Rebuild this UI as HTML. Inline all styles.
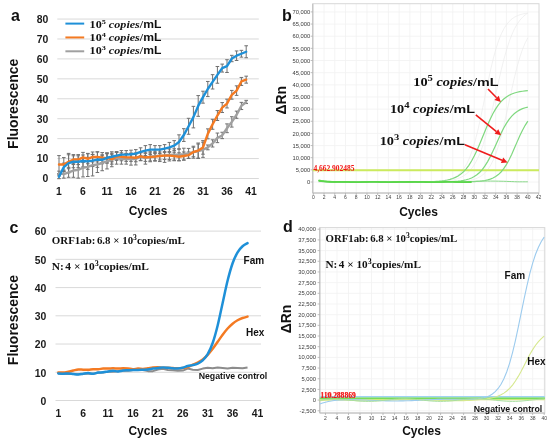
<!DOCTYPE html>
<html><head><meta charset="utf-8"><style>
html,body{margin:0;padding:0;background:#fff;width:550px;height:441px;overflow:hidden}
svg{display:block;will-change:transform}
text{font-family:"Liberation Sans", sans-serif;fill:#111}
.tk{font-size:10.4px;font-weight:bold;fill:#1a1a1a}
.ttl{font-size:14px;font-weight:bold}
.ttl2{font-size:12px;font-weight:bold}
.ttl3{font-size:14px;font-weight:bold}
.plbl{font-size:16px;font-weight:bold}
.leg{font-family:"Liberation Serif", serif;font-size:10px;font-weight:bold}
.leg2{font-family:"Liberation Serif", serif;font-size:11.5px;font-weight:bold}
.anno{font-family:"Liberation Serif", serif;font-size:11.4px;font-weight:bold}
.lbl10{font-size:10px;font-weight:bold}
.neg{font-size:8.75px;font-weight:bold}
.tks{font-size:5.8px;fill:#3a3a3a}
.tkx{font-size:5px;fill:#444}
.red{font-family:"Liberation Serif", serif;font-size:7.3px;font-weight:bold;fill:#f21414}
</style></head><body>
<svg width="550" height="441" viewBox="0 0 550 441">
<rect width="550" height="441" fill="#fff"/>
<line x1="57.3" y1="178.5" x2="258.8" y2="178.5" stroke="#d9d9d9" stroke-width="1"/>
<text x="48.4" y="182.4" class="tk" text-anchor="end">0</text>
<line x1="57.3" y1="158.57" x2="258.8" y2="158.57" stroke="#d9d9d9" stroke-width="1"/>
<text x="48.4" y="162.47" class="tk" text-anchor="end">10</text>
<line x1="57.3" y1="138.64" x2="258.8" y2="138.64" stroke="#d9d9d9" stroke-width="1"/>
<text x="48.4" y="142.54" class="tk" text-anchor="end">20</text>
<line x1="57.3" y1="118.71" x2="258.8" y2="118.71" stroke="#d9d9d9" stroke-width="1"/>
<text x="48.4" y="122.61" class="tk" text-anchor="end">30</text>
<line x1="57.3" y1="98.78" x2="258.8" y2="98.78" stroke="#d9d9d9" stroke-width="1"/>
<text x="48.4" y="102.68" class="tk" text-anchor="end">40</text>
<line x1="57.3" y1="78.85" x2="258.8" y2="78.85" stroke="#d9d9d9" stroke-width="1"/>
<text x="48.4" y="82.75" class="tk" text-anchor="end">50</text>
<line x1="57.3" y1="58.92" x2="258.8" y2="58.92" stroke="#d9d9d9" stroke-width="1"/>
<text x="48.4" y="62.82" class="tk" text-anchor="end">60</text>
<line x1="57.3" y1="38.99" x2="258.8" y2="38.99" stroke="#d9d9d9" stroke-width="1"/>
<text x="48.4" y="42.89" class="tk" text-anchor="end">70</text>
<line x1="57.3" y1="19.06" x2="258.8" y2="19.06" stroke="#d9d9d9" stroke-width="1"/>
<text x="48.4" y="22.96" class="tk" text-anchor="end">80</text>
<text x="59" y="194.6" class="tk" text-anchor="middle">1</text>
<text x="83" y="194.6" class="tk" text-anchor="middle">6</text>
<text x="107" y="194.6" class="tk" text-anchor="middle">11</text>
<text x="131" y="194.6" class="tk" text-anchor="middle">16</text>
<text x="155" y="194.6" class="tk" text-anchor="middle">21</text>
<text x="179" y="194.6" class="tk" text-anchor="middle">26</text>
<text x="203" y="194.6" class="tk" text-anchor="middle">31</text>
<text x="227" y="194.6" class="tk" text-anchor="middle">36</text>
<text x="251" y="194.6" class="tk" text-anchor="middle">41</text>
<path d="M59,171.13V175.91M57.2,171.13h3.6M57.2,175.91h3.6M63.8,170.13V178.1M62,170.13h3.6M62,178.1h3.6M68.6,167.34V177.3M66.8,167.34h3.6M66.8,177.3h3.6M73.4,163.75V177.3M71.6,163.75h3.6M71.6,177.3h3.6M78.2,161.76V178.1M76.4,161.76h3.6M76.4,178.1h3.6M83,158.57V176.91M81.2,158.57h3.6M81.2,176.91h3.6M87.8,157.37V176.51M86,157.37h3.6M86,176.51h3.6M92.6,154.38V175.91M90.8,154.38h3.6M90.8,175.91h3.6M97.4,156.58V172.52M95.6,156.58h3.6M95.6,172.52h3.6M102.2,154.78V170.73M100.4,154.78h3.6M100.4,170.73h3.6M107,153.79V168.93M105.2,153.79h3.6M105.2,168.93h3.6M111.8,153.19V166.74M110,153.19h3.6M110,166.74h3.6M116.6,152.19V164.15M114.8,152.19h3.6M114.8,164.15h3.6M121.4,154.19V164.15M119.6,154.19h3.6M119.6,164.15h3.6M126.2,154.19V164.15M124.4,154.19h3.6M124.4,164.15h3.6M131,153.19V165.15M129.2,153.19h3.6M129.2,165.15h3.6M135.8,152.99V164.95M134,152.99h3.6M134,164.95h3.6M140.6,152.79V160.76M138.8,152.79h3.6M138.8,160.76h3.6M145.4,152.19V164.15M143.6,152.19h3.6M143.6,164.15h3.6M150.2,151.79V161.76M148.4,151.79h3.6M148.4,161.76h3.6M155,151.2V161.16M153.2,151.2h3.6M153.2,161.16h3.6M159.8,149.6V161.56M158,149.6h3.6M158,161.56h3.6M164.6,148.41V162.36M162.8,148.41h3.6M162.8,162.36h3.6M169.4,149V160.96M167.6,149h3.6M167.6,160.96h3.6M174.2,148.8V160.76M172.4,148.8h3.6M172.4,160.76h3.6M179,148.8V160.76M177.2,148.8h3.6M177.2,160.76h3.6M183.8,148.21V160.16M182,148.21h3.6M182,160.16h3.6M188.6,148.41V158.37M186.8,148.41h3.6M186.8,158.37h3.6M193.4,146.21V158.17M191.6,146.21h3.6M191.6,158.17h3.6M198.2,144.02V158.37M196.4,144.02h3.6M196.4,158.37h3.6M203,142.23V157.37M201.2,142.23h3.6M201.2,157.37h3.6M207.8,145.02V149.8M206,145.02h3.6M206,149.8h3.6M212.6,139.84V147.01M210.8,139.84h3.6M210.8,147.01h3.6M217.4,133.06V142.63M215.6,133.06h3.6M215.6,142.63h3.6M222.2,132.26V138.64M220.4,132.26h3.6M220.4,138.64h3.6M227,123.89V132.66M225.2,123.89h3.6M225.2,132.66h3.6M231.8,116.72V127.08M230,116.72h3.6M230,127.08h3.6M236.6,111.14V118.31M234.8,111.14h3.6M234.8,118.31h3.6M241.4,102.37V109.54M239.6,102.37h3.6M239.6,109.54h3.6M246.2,100.37V103.56M244.4,100.37h3.6M244.4,103.56h3.6" stroke="#707070" stroke-width="1" fill="none"/>
<path d="M59,155.58V173.52M57.2,155.58h3.6M57.2,173.52h3.6M63.8,157.57V171.52M62,157.57h3.6M62,171.52h3.6M68.6,154.78V168.73M66.8,154.78h3.6M66.8,168.73h3.6M73.4,154.58V164.55M71.6,154.58h3.6M71.6,164.55h3.6M78.2,154.58V164.55M76.4,154.58h3.6M76.4,164.55h3.6M83,152.39V162.36M81.2,152.39h3.6M81.2,162.36h3.6M87.8,153.79V163.75M86,153.79h3.6M86,163.75h3.6M92.6,151.99V161.96M90.8,151.99h3.6M90.8,161.96h3.6M97.4,151.99V161.96M95.6,151.99h3.6M95.6,161.96h3.6M102.2,152.59V162.56M100.4,152.59h3.6M100.4,162.56h3.6M107,153.19V163.15M105.2,153.19h3.6M105.2,163.15h3.6M111.8,154.19V164.15M110,154.19h3.6M110,164.15h3.6M116.6,152.39V160.36M114.8,152.39h3.6M114.8,160.36h3.6M121.4,152.79V160.76M119.6,152.79h3.6M119.6,160.76h3.6M126.2,153.39V161.36M124.4,153.39h3.6M124.4,161.36h3.6M131,153.39V161.36M129.2,153.39h3.6M129.2,161.36h3.6M135.8,153.79V161.76M134,153.79h3.6M134,161.76h3.6M140.6,152.39V160.36M138.8,152.39h3.6M138.8,160.36h3.6M145.4,153.39V161.36M143.6,153.39h3.6M143.6,161.36h3.6M150.2,152.99V160.96M148.4,152.99h3.6M148.4,160.96h3.6M155,152.59V160.56M153.2,152.59h3.6M153.2,160.56h3.6M159.8,151.99V159.97M158,151.99h3.6M158,159.97h3.6M164.6,151.59V159.57M162.8,151.59h3.6M162.8,159.57h3.6M169.4,151.59V159.57M167.6,151.59h3.6M167.6,159.57h3.6M174.2,152.19V160.16M172.4,152.19h3.6M172.4,160.16h3.6M179,152.79V160.76M177.2,152.79h3.6M177.2,160.76h3.6M183.8,151.99V159.97M182,151.99h3.6M182,159.97h3.6M188.6,151.99V158.37M186.8,151.99h3.6M186.8,158.37h3.6M193.4,147.21V156.78M191.6,147.21h3.6M191.6,156.78h3.6M198.2,143.02V158.17M196.4,143.02h3.6M196.4,158.17h3.6M203,140.63V154.19M201.2,140.63h3.6M201.2,154.19h3.6M207.8,128.87V138.84M206,128.87h3.6M206,138.84h3.6M212.6,119.31V129.27M210.8,119.31h3.6M210.8,129.27h3.6M217.4,110.54V120.5M215.6,110.54h3.6M215.6,120.5h3.6M222.2,102.57V112.53M220.4,102.57h3.6M220.4,112.53h3.6M227,99.18V107.95M225.2,99.18h3.6M225.2,107.95h3.6M231.8,90.41V99.18M230,90.41h3.6M230,99.18h3.6M236.6,85.83V95.39M234.8,85.83h3.6M234.8,95.39h3.6M241.4,77.45V85.43M239.6,77.45h3.6M239.6,85.43h3.6M246.2,76.16V83.13M244.4,76.16h3.6M244.4,83.13h3.6" stroke="#707070" stroke-width="1" fill="none"/>
<path d="M59,174.71V178.7M57.2,174.71h3.6M57.2,178.7h3.6M63.8,163.15V171.13M62,163.15h3.6M62,171.13h3.6M68.6,153.39V172.92M66.8,153.39h3.6M66.8,172.92h3.6M73.4,155.78V167.74M71.6,155.78h3.6M71.6,167.74h3.6M78.2,155.78V167.74M76.4,155.78h3.6M76.4,167.74h3.6M83,154.98V166.94M81.2,154.98h3.6M81.2,166.94h3.6M87.8,153.39V169.33M86,153.39h3.6M86,169.33h3.6M92.6,154.58V166.54M90.8,154.58h3.6M90.8,166.54h3.6M97.4,151.79V167.34M95.6,151.79h3.6M95.6,167.34h3.6M102.2,155.78V163.75M100.4,155.78h3.6M100.4,163.75h3.6M107,152.79V162.76M105.2,152.79h3.6M105.2,162.76h3.6M111.8,151.79V161.76M110,151.79h3.6M110,161.76h3.6M116.6,151.59V159.57M114.8,151.59h3.6M114.8,159.57h3.6M121.4,150.6V158.57M119.6,150.6h3.6M119.6,158.57h3.6M126.2,150.6V158.57M124.4,150.6h3.6M124.4,158.57h3.6M131,150.2V158.17M129.2,150.2h3.6M129.2,158.17h3.6M135.8,149.6V157.57M134,149.6h3.6M134,157.57h3.6M140.6,147.81V155.78M138.8,147.81h3.6M138.8,155.78h3.6M145.4,145.62V155.58M143.6,145.62h3.6M143.6,155.58h3.6M150.2,144.62V154.58M148.4,144.62h3.6M148.4,154.58h3.6M155,145.62V153.59M153.2,145.62h3.6M153.2,153.59h3.6M159.8,145.62V153.59M158,145.62h3.6M158,153.59h3.6M164.6,144.62V152.59M162.8,144.62h3.6M162.8,152.59h3.6M169.4,142.43V152.39M167.6,142.43h3.6M167.6,152.39h3.6M174.2,140.63V150.6M172.4,140.63h3.6M172.4,150.6h3.6M179,134.85V149.2M177.2,134.85h3.6M177.2,149.2h3.6M183.8,128.68V141.43M182,128.68h3.6M182,141.43h3.6M188.6,118.31V134.26M186.8,118.31h3.6M186.8,134.26h3.6M193.4,106.35V127.88M191.6,106.35h3.6M191.6,127.88h3.6M198.2,95.59V116.32M196.4,95.59h3.6M196.4,116.32h3.6M203,91.21V103.16M201.2,91.21h3.6M201.2,103.16h3.6M207.8,81.44V96.59M206,81.44h3.6M206,96.59h3.6M212.6,74.66V89.01M210.8,74.66h3.6M210.8,89.01h3.6M217.4,66.49V83.23M215.6,66.49h3.6M215.6,83.23h3.6M222.2,64.1V72.07M220.4,64.1h3.6M220.4,72.07h3.6M227,59.72V72.47M225.2,59.72h3.6M225.2,72.47h3.6M231.8,55.33V61.71M230,55.33h3.6M230,61.71h3.6M236.6,50.95V60.51M234.8,50.95h3.6M234.8,60.51h3.6M241.4,50.35V57.13M239.6,50.35h3.6M239.6,57.13h3.6M246.2,45.77V57.72M244.4,45.77h3.6M244.4,57.72h3.6" stroke="#707070" stroke-width="1" fill="none"/>
<path d="M59,173.52 L63.8,174.12 L68.6,172.32 L73.4,170.53 L78.2,169.93 L83,167.74 L87.8,166.94 L92.6,165.15 L97.4,164.55 L102.2,162.76 L107,161.36 L111.8,159.97 L116.6,158.17 L121.4,159.17 L126.2,159.17 L131,159.17 L135.8,158.97 L140.6,156.78 L145.4,158.17 L150.2,156.78 L155,156.18 L159.8,155.58 L164.6,155.38 L169.4,154.98 L174.2,154.78 L179,154.78 L183.8,154.19 L188.6,153.39 L193.4,152.19 L198.2,151.2 L203,149.8 L207.8,147.41 L212.6,143.42 L217.4,137.84 L222.2,135.45 L227,128.28 L231.8,121.9 L236.6,114.72 L241.4,105.95 L246.2,101.97" stroke="#a0a0a0" stroke-width="2.4" fill="none" stroke-linejoin="round" stroke-linecap="round"/>
<path d="M59,164.55 L63.8,164.55 L68.6,161.76 L73.4,159.57 L78.2,159.57 L83,157.37 L87.8,158.77 L92.6,156.98 L97.4,156.98 L102.2,157.57 L107,158.17 L111.8,159.17 L116.6,156.38 L121.4,156.78 L126.2,157.37 L131,157.37 L135.8,157.77 L140.6,156.38 L145.4,157.37 L150.2,156.98 L155,156.58 L159.8,155.98 L164.6,155.58 L169.4,155.58 L174.2,156.18 L179,156.78 L183.8,155.98 L188.6,155.18 L193.4,151.99 L198.2,150.6 L203,147.41 L207.8,133.86 L212.6,124.29 L217.4,115.52 L222.2,107.55 L227,103.56 L231.8,94.79 L236.6,90.61 L241.4,81.44 L246.2,79.65" stroke="#f47a22" stroke-width="2.4" fill="none" stroke-linejoin="round" stroke-linecap="round"/>
<path d="M59,176.71 L63.8,167.14 L68.6,163.15 L73.4,161.76 L78.2,161.76 L83,160.96 L87.8,161.36 L92.6,160.56 L97.4,159.57 L102.2,159.77 L107,157.77 L111.8,156.78 L116.6,155.58 L121.4,154.58 L126.2,154.58 L131,154.19 L135.8,153.59 L140.6,151.79 L145.4,150.6 L150.2,149.6 L155,149.6 L159.8,149.6 L164.6,148.6 L169.4,147.41 L174.2,145.62 L179,142.03 L183.8,135.05 L188.6,126.28 L193.4,117.12 L198.2,105.95 L203,97.19 L207.8,89.01 L212.6,81.84 L217.4,74.86 L222.2,68.09 L227,66.09 L231.8,58.52 L236.6,55.73 L241.4,53.74 L246.2,51.75" stroke="#1e90d8" stroke-width="2.4" fill="none" stroke-linejoin="round" stroke-linecap="round"/>
<line x1="65.4" y1="23.6" x2="84.2" y2="23.6" stroke="#1e90d8" stroke-width="2"/>
<text x="89.6" y="28.1" class="leg" textLength="71.8" lengthAdjust="spacingAndGlyphs">10<tspan dy="-4.4" font-size="6.8">5</tspan><tspan dy="4.4"> </tspan><tspan font-style="italic">copies</tspan>/<tspan font-family='"Liberation Sans", sans-serif'>mL</tspan></text>
<line x1="65.4" y1="37.45" x2="84.2" y2="37.45" stroke="#f47a22" stroke-width="2"/>
<text x="89.6" y="41.15" class="leg" textLength="71.8" lengthAdjust="spacingAndGlyphs">10<tspan dy="-4.4" font-size="6.8">4</tspan><tspan dy="4.4"> </tspan><tspan font-style="italic">copies</tspan>/<tspan font-family='"Liberation Sans", sans-serif'>mL</tspan></text>
<line x1="65.4" y1="51.3" x2="84.2" y2="51.3" stroke="#a0a0a0" stroke-width="2"/>
<text x="89.6" y="54.2" class="leg" textLength="71.8" lengthAdjust="spacingAndGlyphs">10<tspan dy="-4.4" font-size="6.8">3</tspan><tspan dy="4.4"> </tspan><tspan font-style="italic">copies</tspan>/<tspan font-family='"Liberation Sans", sans-serif'>mL</tspan></text>
<text x="0" y="0" class="ttl" transform="translate(18,103.75) rotate(-90)" text-anchor="middle">Fluorescence</text>
<text x="148" y="214.8" class="ttl2" text-anchor="middle">Cycles</text>
<text x="11" y="20.6" class="plbl">a</text>
<line x1="55.5" y1="400.5" x2="261" y2="400.5" stroke="#d9d9d9" stroke-width="1"/>
<text x="46.4" y="404.8" class="tk" text-anchor="end">0</text>
<line x1="55.5" y1="372.27" x2="261" y2="372.27" stroke="#d9d9d9" stroke-width="1"/>
<text x="46.4" y="376.57" class="tk" text-anchor="end">10</text>
<line x1="55.5" y1="344.04" x2="261" y2="344.04" stroke="#d9d9d9" stroke-width="1"/>
<text x="46.4" y="348.34" class="tk" text-anchor="end">20</text>
<line x1="55.5" y1="315.81" x2="261" y2="315.81" stroke="#d9d9d9" stroke-width="1"/>
<text x="46.4" y="320.11" class="tk" text-anchor="end">30</text>
<line x1="55.5" y1="287.58" x2="261" y2="287.58" stroke="#d9d9d9" stroke-width="1"/>
<text x="46.4" y="291.88" class="tk" text-anchor="end">40</text>
<line x1="55.5" y1="259.35" x2="261" y2="259.35" stroke="#d9d9d9" stroke-width="1"/>
<text x="46.4" y="263.65" class="tk" text-anchor="end">50</text>
<line x1="55.5" y1="231.12" x2="261" y2="231.12" stroke="#d9d9d9" stroke-width="1"/>
<text x="46.4" y="235.42" class="tk" text-anchor="end">60</text>
<text x="58.3" y="417" class="tk" text-anchor="middle">1</text>
<text x="83.2" y="417" class="tk" text-anchor="middle">6</text>
<text x="108.1" y="417" class="tk" text-anchor="middle">11</text>
<text x="133" y="417" class="tk" text-anchor="middle">16</text>
<text x="157.9" y="417" class="tk" text-anchor="middle">21</text>
<text x="182.8" y="417" class="tk" text-anchor="middle">26</text>
<text x="207.7" y="417" class="tk" text-anchor="middle">31</text>
<text x="232.6" y="417" class="tk" text-anchor="middle">36</text>
<text x="257.5" y="417" class="tk" text-anchor="middle">41</text>
<path d="M58.3,373.68 L63.28,373.96 L68.26,373.68 L73.24,373.96 L78.22,374.25 L83.2,373.96 L88.18,373.4 L93.16,373.68 L98.14,372.83 L103.12,372.55 L108.1,371.71 L113.08,371.71 L118.06,371.14 L123.04,370.58 L128.02,370.86 L133,370.01 L137.98,369.73 L142.96,370.01 L147.94,371.14 L152.92,371.14 L157.9,369.45 L162.88,368.88 L167.86,370.01 L172.84,370.29 L177.82,370.86 L182.8,370.58 L187.78,368.6 L192.76,369.73 L197.74,370.01 L202.72,368.6 L207.7,367.75 L212.68,368.32 L217.66,367.47 L222.64,368.04 L227.62,368.6 L232.6,367.75 L237.58,368.04 L242.56,368.32 L247.54,367.47" stroke="#8c8c8c" stroke-width="2" fill="none" stroke-linejoin="round"/>
<path d="M58.3,372.55 C59.13,372.55 61.62,372.69 63.28,372.55 C64.94,372.41 66.6,372.03 68.26,371.71 C69.92,371.38 71.58,370.95 73.24,370.58 C74.9,370.2 76.56,369.59 78.22,369.45 C79.88,369.31 81.54,369.68 83.2,369.73 C84.86,369.78 86.52,369.82 88.18,369.73 C89.84,369.64 91.5,369.26 93.16,369.16 C94.82,369.07 96.48,369.26 98.14,369.16 C99.8,369.07 101.46,368.69 103.12,368.6 C104.78,368.51 106.44,368.65 108.1,368.6 C109.76,368.55 111.42,368.32 113.08,368.32 C114.74,368.32 116.4,368.6 118.06,368.6 C119.72,368.6 121.38,368.32 123.04,368.32 C124.7,368.32 126.36,368.46 128.02,368.6 C129.68,368.74 131.34,369.16 133,369.16 C134.66,369.16 136.32,368.65 137.98,368.6 C139.64,368.55 141.3,368.93 142.96,368.88 C144.62,368.84 146.28,368.55 147.94,368.32 C149.6,368.08 151.26,367.66 152.92,367.47 C154.58,367.28 156.24,367.14 157.9,367.19 C159.56,367.24 161.22,367.66 162.88,367.75 C164.54,367.85 166.2,367.71 167.86,367.75 C169.52,367.8 171.18,367.94 172.84,368.04 C174.5,368.13 176.16,368.32 177.82,368.32 C179.48,368.31 181.14,368.22 182.8,368.03 C184.46,367.84 186.12,367.71 187.78,367.16 C189.44,366.62 191.1,365.5 192.76,364.75 C194.42,364 196.08,363.53 197.74,362.65 C199.4,361.76 201.06,360.73 202.72,359.42 C204.38,358.12 206.04,356.58 207.7,354.8 C209.36,353.03 211.02,350.94 212.68,348.77 C214.34,346.6 216,344.12 217.66,341.78 C219.32,339.43 220.98,336.93 222.64,334.72 C224.3,332.5 225.96,330.35 227.62,328.51 C229.28,326.67 230.94,325.05 232.6,323.68 C234.26,322.31 235.92,321.22 237.58,320.28 C239.24,319.34 240.9,318.65 242.56,318.04 C244.22,317.43 246.71,316.86 247.54,316.63" stroke="#f47a22" stroke-width="2.5" fill="none" stroke-linejoin="round" stroke-linecap="round"/>
<path d="M58.3,373.4 C59.13,373.45 61.62,373.68 63.28,373.68 C64.94,373.68 66.6,373.35 68.26,373.4 C69.92,373.45 71.58,373.78 73.24,373.96 C74.9,374.15 76.56,374.58 78.22,374.53 C79.88,374.48 81.54,373.92 83.2,373.68 C84.86,373.45 86.52,373.12 88.18,373.12 C89.84,373.12 91.5,373.78 93.16,373.68 C94.82,373.59 96.48,372.79 98.14,372.55 C99.8,372.32 101.46,372.46 103.12,372.27 C104.78,372.08 106.44,371.66 108.1,371.42 C109.76,371.19 111.42,370.86 113.08,370.86 C114.74,370.86 116.4,371.47 118.06,371.42 C119.72,371.38 121.38,370.76 123.04,370.58 C124.7,370.39 126.36,370.39 128.02,370.29 C129.68,370.2 131.34,370.06 133,370.01 C134.66,369.96 136.32,370.06 137.98,370.01 C139.64,369.96 141.3,369.82 142.96,369.73 C144.62,369.64 146.28,369.64 147.94,369.45 C149.6,369.26 151.26,368.84 152.92,368.6 C154.58,368.36 156.24,368.22 157.9,368.04 C159.56,367.85 161.22,367.52 162.88,367.47 C164.54,367.42 166.2,367.61 167.86,367.75 C169.52,367.89 171.18,368.18 172.84,368.32 C174.5,368.46 176.16,368.69 177.82,368.6 C179.48,368.5 181.14,368.17 182.8,367.75 C184.46,367.33 186.12,366.49 187.78,366.06 C189.44,365.62 191.1,365.56 192.76,365.15 C194.42,364.73 196.08,364.36 197.74,363.56 C199.4,362.77 201.06,361.93 202.72,360.36 C204.38,358.79 206.04,357.05 207.7,354.15 C209.36,351.25 211.02,347.77 212.68,342.99 C214.34,338.2 216,332.11 217.66,325.44 C219.32,318.76 220.98,310.42 222.64,302.93 C224.3,295.45 225.96,287.16 227.62,280.55 C229.28,273.93 230.94,267.96 232.6,263.26 C234.26,258.55 235.92,255.16 237.58,252.33 C239.24,249.49 240.9,247.8 242.56,246.27 C244.22,244.74 246.71,243.67 247.54,243.15" stroke="#1e90d8" stroke-width="2.5" fill="none" stroke-linejoin="round" stroke-linecap="round"/>
<text x="51.8" y="243.5" class="anno" textLength="133" lengthAdjust="spacingAndGlyphs">ORF1ab:<tspan dx="1.5">6.8</tspan> × 10<tspan dy="-4" font-size="8">3</tspan><tspan dy="4">copies/mL</tspan></text>
<text x="51.8" y="270" class="anno" textLength="97" lengthAdjust="spacingAndGlyphs">N:<tspan dx="1.5">4</tspan> × 10<tspan dy="-4" font-size="8">3</tspan><tspan dy="4">copies/mL</tspan></text>
<text x="243.6" y="264.3" class="lbl10">Fam</text>
<text x="246" y="335.5" class="lbl10">Hex</text>
<text x="198.7" y="378.6" class="neg">Negative control</text>
<text x="0" y="0" class="ttl" transform="translate(18,320) rotate(-90)" text-anchor="middle">Fluorescence</text>
<text x="147.8" y="434.9" class="ttl2" text-anchor="middle">Cycles</text>
<text x="9.5" y="233.1" class="plbl">c</text>
<path d="M324.03,3.7V193M334.76,3.7V193M345.48,3.7V193M356.21,3.7V193M366.94,3.7V193M377.67,3.7V193M388.4,3.7V193M399.12,3.7V193M409.85,3.7V193M420.58,3.7V193M431.31,3.7V193M442.04,3.7V193M452.76,3.7V193M463.49,3.7V193M474.22,3.7V193M484.95,3.7V193M495.68,3.7V193M506.4,3.7V193M517.13,3.7V193M527.86,3.7V193M312.8,182H539M312.8,169.85H539M312.8,157.7H539M312.8,145.55H539M312.8,133.4H539M312.8,121.25H539M312.8,109.1H539M312.8,96.95H539M312.8,84.8H539M312.8,72.65H539M312.8,60.5H539M312.8,48.35H539M312.8,36.2H539M312.8,24.05H539M312.8,11.9H539" stroke="#f1f1f1" stroke-width="0.8" fill="none"/>
<rect x="312.8" y="3.7" width="226.2" height="189.3" fill="none" stroke="#d8d8d8" stroke-width="1"/>
<line x1="312.8" y1="3.7" x2="312.8" y2="193" stroke="#bcbcbc" stroke-width="1.1"/>
<line x1="312.8" y1="193" x2="539" y2="193" stroke="#bcbcbc" stroke-width="1.1"/>
<path d="M310.6,182h2.2M310.6,169.85h2.2M310.6,157.7h2.2M310.6,145.55h2.2M310.6,133.4h2.2M310.6,121.25h2.2M310.6,109.1h2.2M310.6,96.95h2.2M310.6,84.8h2.2M310.6,72.65h2.2M310.6,60.5h2.2M310.6,48.35h2.2M310.6,36.2h2.2M310.6,24.05h2.2M310.6,11.9h2.2M313.3,193v2M324.03,193v2M334.76,193v2M345.48,193v2M356.21,193v2M366.94,193v2M377.67,193v2M388.4,193v2M399.12,193v2M409.85,193v2M420.58,193v2M431.31,193v2M442.04,193v2M452.76,193v2M463.49,193v2M474.22,193v2M484.95,193v2M495.68,193v2M506.4,193v2M517.13,193v2M527.86,193v2M538.59,193v2" stroke="#b0b0b0" stroke-width="0.8" fill="none"/>
<text x="310.2" y="184.2" class="tks" text-anchor="end">0</text>
<text x="310.2" y="172.05" class="tks" text-anchor="end">5,000</text>
<text x="310.2" y="159.9" class="tks" text-anchor="end">10,000</text>
<text x="310.2" y="147.75" class="tks" text-anchor="end">15,000</text>
<text x="310.2" y="135.6" class="tks" text-anchor="end">20,000</text>
<text x="310.2" y="123.45" class="tks" text-anchor="end">25,000</text>
<text x="310.2" y="111.3" class="tks" text-anchor="end">30,000</text>
<text x="310.2" y="99.15" class="tks" text-anchor="end">35,000</text>
<text x="310.2" y="87" class="tks" text-anchor="end">40,000</text>
<text x="310.2" y="74.85" class="tks" text-anchor="end">45,000</text>
<text x="310.2" y="62.7" class="tks" text-anchor="end">50,000</text>
<text x="310.2" y="50.55" class="tks" text-anchor="end">55,000</text>
<text x="310.2" y="38.4" class="tks" text-anchor="end">60,000</text>
<text x="310.2" y="26.25" class="tks" text-anchor="end">65,000</text>
<text x="310.2" y="14.1" class="tks" text-anchor="end">70,000</text>
<text x="313.3" y="199" class="tkx" text-anchor="middle">0</text>
<text x="324.03" y="199" class="tkx" text-anchor="middle">2</text>
<text x="334.76" y="199" class="tkx" text-anchor="middle">4</text>
<text x="345.48" y="199" class="tkx" text-anchor="middle">6</text>
<text x="356.21" y="199" class="tkx" text-anchor="middle">8</text>
<text x="366.94" y="199" class="tkx" text-anchor="middle">10</text>
<text x="377.67" y="199" class="tkx" text-anchor="middle">12</text>
<text x="388.4" y="199" class="tkx" text-anchor="middle">14</text>
<text x="399.12" y="199" class="tkx" text-anchor="middle">16</text>
<text x="409.85" y="199" class="tkx" text-anchor="middle">18</text>
<text x="420.58" y="199" class="tkx" text-anchor="middle">20</text>
<text x="431.31" y="199" class="tkx" text-anchor="middle">22</text>
<text x="442.04" y="199" class="tkx" text-anchor="middle">24</text>
<text x="452.76" y="199" class="tkx" text-anchor="middle">26</text>
<text x="463.49" y="199" class="tkx" text-anchor="middle">28</text>
<text x="474.22" y="199" class="tkx" text-anchor="middle">30</text>
<text x="484.95" y="199" class="tkx" text-anchor="middle">32</text>
<text x="495.68" y="199" class="tkx" text-anchor="middle">34</text>
<text x="506.4" y="199" class="tkx" text-anchor="middle">36</text>
<text x="517.13" y="199" class="tkx" text-anchor="middle">38</text>
<text x="527.86" y="199" class="tkx" text-anchor="middle">40</text>
<text x="538.59" y="199" class="tkx" text-anchor="middle">42</text>
<path d="M318.66,182 L321.31,182 L323.96,182 L326.61,182 L329.26,182 L331.9,182 L334.55,182 L337.2,182 L339.85,182 L342.5,182 L345.14,182 L347.79,182 L350.44,182 L353.09,182 L355.74,182 L358.38,182 L361.03,182 L363.68,182 L366.33,182 L368.98,182 L371.63,182 L374.27,182 L376.92,182 L379.57,182 L382.22,182 L384.87,182 L387.51,182 L390.16,182 L392.81,182 L395.46,181.99 L398.11,181.99 L400.75,181.99 L403.4,181.99 L406.05,181.98 L408.7,181.98 L411.35,181.97 L413.99,181.96 L416.64,181.94 L419.29,181.92 L421.94,181.89 L424.59,181.85 L427.23,181.8 L429.88,181.72 L432.53,181.62 L435.18,181.49 L437.83,181.3 L440.47,181.05 L443.12,180.71 L445.77,180.25 L448.42,179.62 L451.07,178.78 L453.71,177.65 L456.36,176.13 L459.01,174.1 L461.66,171.42 L464.31,167.92 L466.95,163.39 L469.6,157.62 L472.25,150.44 L474.9,141.74 L477.55,131.51 L480.2,119.92 L482.84,107.33 L485.49,94.26 L488.14,81.32 L490.79,69.08 L493.44,58.02 L496.08,48.4 L498.73,40.33 L501.38,33.75 L504.03,28.52 L506.68,24.43 L509.32,21.29 L511.97,18.9 L514.62,17.1 L517.27,15.75 L519.92,14.74 L522.56,14 L525.21,13.45 L527.86,13.04" stroke="#ebebeb" stroke-width="0.7" fill="none"/>
<path d="M318.66,182 L321.31,182 L323.96,182 L326.61,182 L329.26,182 L331.9,182 L334.55,182 L337.2,182 L339.85,182 L342.5,182 L345.14,182 L347.79,182 L350.44,182 L353.09,182 L355.74,182 L358.38,182 L361.03,182 L363.68,182 L366.33,182 L368.98,182 L371.63,182 L374.27,182 L376.92,182 L379.57,182 L382.22,182 L384.87,182 L387.51,182 L390.16,182 L392.81,182 L395.46,181.99 L398.11,181.99 L400.75,181.99 L403.4,181.99 L406.05,181.98 L408.7,181.98 L411.35,181.97 L413.99,181.96 L416.64,181.95 L419.29,181.94 L421.94,181.92 L424.59,181.89 L427.23,181.85 L429.88,181.81 L432.53,181.75 L435.18,181.67 L437.83,181.56 L440.47,181.43 L443.12,181.25 L445.77,181.01 L448.42,180.7 L451.07,180.29 L453.71,179.76 L456.36,179.07 L459.01,178.16 L461.66,176.99 L464.31,175.46 L466.95,173.5 L469.6,170.99 L472.25,167.79 L474.9,163.78 L477.55,158.79 L480.2,152.69 L482.84,145.38 L485.49,136.81 L488.14,127.03 L490.79,116.21 L493.44,104.63 L496.08,92.67 L498.73,80.79 L501.38,69.41 L504.03,58.88 L506.68,49.46 L509.32,41.28 L511.97,34.35 L514.62,28.6 L517.27,23.93 L519.92,20.18 L522.56,17.21 L525.21,14.88 L527.86,13.07" stroke="#ebebeb" stroke-width="0.7" fill="none"/>
<path d="M318.66,182 L321.31,182 L323.96,182 L326.61,182 L329.26,182 L331.9,182 L334.55,182 L337.2,182 L339.85,182 L342.5,182 L345.14,182 L347.79,182 L350.44,182 L353.09,182 L355.74,182 L358.38,182 L361.03,182 L363.68,182 L366.33,182 L368.98,182 L371.63,182 L374.27,182 L376.92,182 L379.57,182 L382.22,182 L384.87,182 L387.51,182 L390.16,182 L392.81,182 L395.46,182 L398.11,182 L400.75,182 L403.4,182 L406.05,182 L408.7,182 L411.35,182 L413.99,182 L416.64,182 L419.29,182 L421.94,181.99 L424.59,181.99 L427.23,181.99 L429.88,181.98 L432.53,181.98 L435.18,181.97 L437.83,181.96 L440.47,181.95 L443.12,181.93 L445.77,181.9 L448.42,181.86 L451.07,181.81 L453.71,181.75 L456.36,181.66 L459.01,181.53 L461.66,181.36 L464.31,181.14 L466.95,180.83 L469.6,180.4 L472.25,179.84 L474.9,179.07 L477.55,178.03 L480.2,176.65 L482.84,174.8 L485.49,172.36 L488.14,169.15 L490.79,165 L493.44,159.71 L496.08,153.1 L498.73,145.06 L501.38,135.57 L504.03,124.78 L506.68,113 L509.32,100.7 L511.97,88.45 L514.62,76.82 L517.27,66.24 L519.92,57.01 L522.56,49.23 L525.21,42.87 L527.86,37.8" stroke="#ebebeb" stroke-width="0.7" fill="none"/>
<line x1="312.8" y1="170.2" x2="539" y2="170.2" stroke="#cbea5e" stroke-width="2"/>
<path d="M318.66,180.54 L321.35,181.04 L324.03,181.37 L326.71,181.58 L329.39,181.72 L332.07,181.82 L334.76,181.88 L337.44,181.92 L340.12,181.95 L342.8,181.97 L345.48,181.98 L348.17,181.99 L350.85,181.99 L353.53,181.99 L356.21,182 L358.89,182 L361.58,182 L364.26,182 L366.94,182 L369.62,182 L372.3,182 L374.99,182 L377.67,182 L380.35,182 L383.03,182 L385.71,182 L388.4,182 L391.08,181.99 L393.76,181.99 L396.44,181.99 L399.12,181.99 L401.81,181.98 L404.49,181.98 L407.17,181.97 L409.85,181.96 L412.53,181.95 L415.22,181.93 L417.9,181.91 L420.58,181.88 L423.26,181.84 L425.94,181.79 L428.63,181.72 L431.31,181.63 L433.99,181.51 L436.67,181.34 L439.35,181.13 L442.04,180.84 L444.72,180.47 L447.4,179.97 L450.08,179.32 L452.76,178.47 L455.45,177.36 L458.13,175.93 L460.81,174.09 L463.49,171.77 L466.17,168.87 L468.86,165.31 L471.54,161.05 L474.22,156.07 L476.9,150.43 L479.58,144.27 L482.27,137.78 L484.95,131.22 L487.63,124.84 L490.31,118.89 L492.99,113.53 L495.68,108.87 L498.36,104.92 L501.04,101.66 L503.72,99.02 L506.4,96.92 L509.09,95.27 L511.77,93.99 L514.45,93.01 L517.13,92.25 L519.81,91.67 L522.5,91.23 L525.18,90.9 L527.86,90.65" stroke="#7fd87f" stroke-width="1.2" fill="none"/>
<path d="M318.66,180.54 L321.35,181.04 L324.03,181.37 L326.71,181.58 L329.39,181.72 L332.07,181.82 L334.76,181.88 L337.44,181.92 L340.12,181.95 L342.8,181.97 L345.48,181.98 L348.17,181.99 L350.85,181.99 L353.53,181.99 L356.21,182 L358.89,182 L361.58,182 L364.26,182 L366.94,182 L369.62,182 L372.3,182 L374.99,182 L377.67,182 L380.35,182 L383.03,182 L385.71,182 L388.4,182 L391.08,182 L393.76,182 L396.44,182 L399.12,182 L401.81,182 L404.49,182 L407.17,182 L409.85,182 L412.53,182 L415.22,181.99 L417.9,181.99 L420.58,181.99 L423.26,181.98 L425.94,181.98 L428.63,181.97 L431.31,181.96 L433.99,181.95 L436.67,181.93 L439.35,181.9 L442.04,181.86 L444.72,181.81 L447.4,181.75 L450.08,181.65 L452.76,181.53 L455.45,181.35 L458.13,181.12 L460.81,180.8 L463.49,180.37 L466.17,179.79 L468.86,179.01 L471.54,177.97 L474.22,176.59 L476.9,174.8 L479.58,172.48 L482.27,169.55 L484.95,165.94 L487.63,161.62 L490.31,156.61 L492.99,151.05 L495.68,145.14 L498.36,139.16 L501.04,133.38 L503.72,128.07 L506.4,123.37 L509.09,119.39 L511.77,116.12 L514.45,113.49 L517.13,111.44 L519.81,109.86 L522.5,108.65 L525.18,107.75 L527.86,107.07" stroke="#7fd87f" stroke-width="1.2" fill="none"/>
<path d="M318.66,180.54 L321.35,181.04 L324.03,181.37 L326.71,181.58 L329.39,181.72 L332.07,181.82 L334.76,181.88 L337.44,181.92 L340.12,181.95 L342.8,181.97 L345.48,181.98 L348.17,181.99 L350.85,181.99 L353.53,181.99 L356.21,182 L358.89,182 L361.58,182 L364.26,182 L366.94,182 L369.62,182 L372.3,182 L374.99,182 L377.67,182 L380.35,182 L383.03,182 L385.71,182 L388.4,182 L391.08,182 L393.76,182 L396.44,182 L399.12,182 L401.81,182 L404.49,182 L407.17,182 L409.85,182 L412.53,182 L415.22,182 L417.9,182 L420.58,182 L423.26,182 L425.94,182 L428.63,182 L431.31,182 L433.99,182 L436.67,182 L439.35,181.99 L442.04,181.99 L444.72,181.99 L447.4,181.99 L450.08,181.98 L452.76,181.97 L455.45,181.96 L458.13,181.95 L460.81,181.93 L463.49,181.9 L466.17,181.85 L468.86,181.8 L471.54,181.72 L474.22,181.6 L476.9,181.44 L479.58,181.23 L482.27,180.92 L484.95,180.5 L487.63,179.91 L490.31,179.11 L492.99,178.01 L495.68,176.53 L498.36,174.56 L501.04,171.98 L503.72,168.69 L506.4,164.61 L509.09,159.74 L511.77,154.16 L514.45,148.11 L517.13,141.87 L519.81,135.8 L522.5,130.2 L525.18,125.3 L527.86,121.18" stroke="#7fd87f" stroke-width="1.2" fill="none"/>
<path d="M318.66,180.35 L321.35,180.84 L324.03,181.17 L326.71,181.39 L329.39,181.53 L332.07,181.62 L334.76,181.69 L337.44,181.73 L340.12,181.75 L342.8,181.77 L345.48,181.78 L348.17,181.79 L350.85,181.8 L353.53,181.8 L356.21,181.8 L358.89,181.8 L361.58,181.8 L364.26,181.8 L366.94,181.8 L369.62,181.81 L372.3,181.81 L374.99,181.81 L377.67,181.81 L380.35,181.81 L383.03,181.81 L385.71,181.81 L388.4,181.81 L391.08,181.81 L393.76,181.81 L396.44,181.81 L399.12,181.81 L401.81,181.81 L404.49,181.81 L407.17,181.81 L409.85,181.81 L412.53,181.81 L415.22,181.81 L417.9,181.81 L420.58,181.81 L423.26,181.81 L425.94,181.81 L428.63,181.81 L431.31,181.81 L433.99,181.81 L436.67,181.81 L439.35,181.81 L442.04,181.81 L444.72,181.81 L447.4,181.81 L450.08,181.81 L452.76,181.81 L455.45,181.81 L458.13,181.81 L460.81,181.81 L463.49,181.81 L466.17,181.69 L468.86,181.58 L471.54,181.47 L474.22,181.38 L476.9,181.29 L479.58,181.22 L482.27,181.16 L484.95,181.11 L487.63,181.09 L490.31,181.08 L492.99,181.09 L495.68,181.11 L498.36,181.16 L501.04,181.22 L503.72,181.29 L506.4,181.38 L509.09,181.47 L511.77,181.58 L514.45,181.69 L517.13,181.81 L519.81,181.81 L522.5,181.81 L525.18,181.81 L527.86,181.81" stroke="#8ad88a" stroke-width="1" fill="none"/>
<path d="M318.66,180.26 L321.35,180.77 L324.03,181.22 L326.71,181.61 L329.39,181.93 L332.07,182.11 L334.76,182.14 L337.44,182.04 L340.12,181.89 L342.8,181.74 L345.48,181.69 L348.17,181.74 L350.85,181.9 L353.53,182.09 L356.21,182.24 L358.89,182.29 L361.58,182.22 L364.26,182.06 L366.94,181.88 L369.62,181.74 L372.3,181.71 L374.99,181.8 L377.67,181.97 L380.35,182.15 L383.03,182.27 L385.71,182.28 L388.4,182.18 L391.08,182 L393.76,181.82 L396.44,181.72 L399.12,181.73 L401.81,181.85 L404.49,182.03 L407.17,182.2 L409.85,182.29 L412.53,182.26 L415.22,182.12 L417.9,181.94 L420.58,181.78 L423.26,181.71 L425.94,181.76 L428.63,181.91 L431.31,182.09 L433.99,182.24 L436.67,182.29 L439.35,182.22 L442.04,182.06 L444.72,181.88 L447.4,181.74 L450.08,181.71 L452.76,181.8 L455.45,181.97 L458.13,182.15 L460.81,182.27 L463.49,182.28 L466.17,182.18 L468.86,182 L471.54,181.82" stroke="#66d955" stroke-width="1.5" fill="none"/>
<path d="M318.66,180.73 L321.35,181.18 L324.03,181.43 L326.71,181.56 L329.39,181.62 L332.07,181.65 L334.76,181.69 L337.44,181.74 L340.12,181.81 L342.8,181.9 L345.48,182 L348.17,182.09 L350.85,182.16 L353.53,182.19 L356.21,182.18 L358.89,182.13 L361.58,182.06 L364.26,181.97 L366.94,181.89 L369.62,181.83 L372.3,181.81 L374.99,181.82 L377.67,181.87 L380.35,181.94 L383.03,182.03 L385.71,182.11 L388.4,182.17 L391.08,182.19 L393.76,182.18 L396.44,182.13 L399.12,182.06 L401.81,181.97 L404.49,181.89 L407.17,181.83 L409.85,181.81 L412.53,181.82 L415.22,181.87 L417.9,181.94 L420.58,182.03 L423.26,182.11 L425.94,182.17 L428.63,182.19 L431.31,182.18 L433.99,182.13 L436.67,182.06 L439.35,181.97 L442.04,181.89 L444.72,181.83 L447.4,181.81 L450.08,181.82 L452.76,181.87 L455.45,181.95 L458.13,182.03 L460.81,182.11 L463.49,182.17 L466.17,182.19 L468.86,182.18 L471.54,182.13" stroke="#5ad64a" stroke-width="1.5" fill="none"/>
<text x="313.4" y="170.6" class="red" textLength="41.2" lengthAdjust="spacingAndGlyphs">4,662.902485</text>
<line x1="488" y1="89" x2="496.61" y2="97.81" stroke="#ee1c1c" stroke-width="1.6"/>
<path d="M500.8,102.1L494.46,99.91L498.75,95.71Z" fill="#ee1c1c"/>
<line x1="475.8" y1="114.9" x2="496.43" y2="131.53" stroke="#ee1c1c" stroke-width="1.6"/>
<path d="M501.1,135.3L494.55,133.87L498.31,129.2Z" fill="#ee1c1c"/>
<line x1="464.9" y1="144.8" x2="502.06" y2="160.2" stroke="#ee1c1c" stroke-width="1.6"/>
<path d="M507.6,162.5L500.91,162.97L503.21,157.43Z" fill="#ee1c1c"/>
<text x="413.3" y="85.8" class="leg2" textLength="85.2" lengthAdjust="spacingAndGlyphs">10<tspan dy="-5" font-size="8.5">5</tspan><tspan dy="5"> </tspan><tspan font-style="italic">copies</tspan>/<tspan font-family='"Liberation Sans", sans-serif'>mL</tspan></text>
<text x="389.9" y="112.8" class="leg2" textLength="85.2" lengthAdjust="spacingAndGlyphs">10<tspan dy="-5" font-size="8.5">4</tspan><tspan dy="5"> </tspan><tspan font-style="italic">copies</tspan>/<tspan font-family='"Liberation Sans", sans-serif'>mL</tspan></text>
<text x="379.7" y="145.3" class="leg2" textLength="85.2" lengthAdjust="spacingAndGlyphs">10<tspan dy="-5" font-size="8.5">3</tspan><tspan dy="5"> </tspan><tspan font-style="italic">copies</tspan>/<tspan font-family='"Liberation Sans", sans-serif'>mL</tspan></text>
<text x="0" y="0" class="ttl3" transform="translate(286,100.25) rotate(-90)" text-anchor="middle">ΔRn</text>
<text x="418.5" y="215.5" class="ttl2" text-anchor="middle">Cycles</text>
<text x="282" y="20.8" class="plbl">b</text>
<path d="M325.46,227.6V413M336.97,227.6V413M348.48,227.6V413M359.99,227.6V413M371.5,227.6V413M383.02,227.6V413M394.53,227.6V413M406.04,227.6V413M417.55,227.6V413M429.06,227.6V413M440.58,227.6V413M452.09,227.6V413M463.6,227.6V413M475.11,227.6V413M486.62,227.6V413M498.14,227.6V413M509.65,227.6V413M521.16,227.6V413M532.67,227.6V413M544.18,227.6V413M319.8,410.78H544.8M319.8,400.1H544.8M319.8,389.42H544.8M319.8,378.74H544.8M319.8,368.06H544.8M319.8,357.38H544.8M319.8,346.7H544.8M319.8,336.02H544.8M319.8,325.34H544.8M319.8,314.66H544.8M319.8,303.98H544.8M319.8,293.3H544.8M319.8,282.62H544.8M319.8,271.94H544.8M319.8,261.26H544.8M319.8,250.58H544.8M319.8,239.9H544.8M319.8,229.22H544.8" stroke="#f1f1f1" stroke-width="0.8" fill="none"/>
<rect x="319.8" y="227.6" width="224.99999999999994" height="185.4" fill="none" stroke="#d8d8d8" stroke-width="1"/>
<line x1="319.8" y1="227.6" x2="319.8" y2="413" stroke="#bcbcbc" stroke-width="1.1"/>
<line x1="319.8" y1="413" x2="544.8" y2="413" stroke="#bcbcbc" stroke-width="1.1"/>
<path d="M317.6,410.78h2.2M317.6,400.1h2.2M317.6,389.42h2.2M317.6,378.74h2.2M317.6,368.06h2.2M317.6,357.38h2.2M317.6,346.7h2.2M317.6,336.02h2.2M317.6,325.34h2.2M317.6,314.66h2.2M317.6,303.98h2.2M317.6,293.3h2.2M317.6,282.62h2.2M317.6,271.94h2.2M317.6,261.26h2.2M317.6,250.58h2.2M317.6,239.9h2.2M317.6,229.22h2.2M325.46,413v2M336.97,413v2M348.48,413v2M359.99,413v2M371.5,413v2M383.02,413v2M394.53,413v2M406.04,413v2M417.55,413v2M429.06,413v2M440.58,413v2M452.09,413v2M463.6,413v2M475.11,413v2M486.62,413v2M498.14,413v2M509.65,413v2M521.16,413v2M532.67,413v2M544.18,413v2" stroke="#b0b0b0" stroke-width="0.8" fill="none"/>
<text x="316" y="412.88" class="tks" text-anchor="end">-2,500</text>
<text x="316" y="402.2" class="tks" text-anchor="end">0</text>
<text x="316" y="391.52" class="tks" text-anchor="end">2,500</text>
<text x="316" y="380.84" class="tks" text-anchor="end">5,000</text>
<text x="316" y="370.16" class="tks" text-anchor="end">7,500</text>
<text x="316" y="359.48" class="tks" text-anchor="end">10,000</text>
<text x="316" y="348.8" class="tks" text-anchor="end">12,500</text>
<text x="316" y="338.12" class="tks" text-anchor="end">15,000</text>
<text x="316" y="327.44" class="tks" text-anchor="end">17,500</text>
<text x="316" y="316.76" class="tks" text-anchor="end">20,000</text>
<text x="316" y="306.08" class="tks" text-anchor="end">22,500</text>
<text x="316" y="295.4" class="tks" text-anchor="end">25,000</text>
<text x="316" y="284.72" class="tks" text-anchor="end">27,500</text>
<text x="316" y="274.04" class="tks" text-anchor="end">30,000</text>
<text x="316" y="263.36" class="tks" text-anchor="end">32,500</text>
<text x="316" y="252.68" class="tks" text-anchor="end">35,000</text>
<text x="316" y="242" class="tks" text-anchor="end">37,500</text>
<text x="316" y="231.32" class="tks" text-anchor="end">40,000</text>
<text x="325.46" y="420" class="tkx" text-anchor="middle">2</text>
<text x="336.97" y="420" class="tkx" text-anchor="middle">4</text>
<text x="348.48" y="420" class="tkx" text-anchor="middle">6</text>
<text x="359.99" y="420" class="tkx" text-anchor="middle">8</text>
<text x="371.5" y="420" class="tkx" text-anchor="middle">10</text>
<text x="383.02" y="420" class="tkx" text-anchor="middle">12</text>
<text x="394.53" y="420" class="tkx" text-anchor="middle">14</text>
<text x="406.04" y="420" class="tkx" text-anchor="middle">16</text>
<text x="417.55" y="420" class="tkx" text-anchor="middle">18</text>
<text x="429.06" y="420" class="tkx" text-anchor="middle">20</text>
<text x="440.58" y="420" class="tkx" text-anchor="middle">22</text>
<text x="452.09" y="420" class="tkx" text-anchor="middle">24</text>
<text x="463.6" y="420" class="tkx" text-anchor="middle">26</text>
<text x="475.11" y="420" class="tkx" text-anchor="middle">28</text>
<text x="486.62" y="420" class="tkx" text-anchor="middle">30</text>
<text x="498.14" y="420" class="tkx" text-anchor="middle">32</text>
<text x="509.65" y="420" class="tkx" text-anchor="middle">34</text>
<text x="521.16" y="420" class="tkx" text-anchor="middle">36</text>
<text x="532.67" y="420" class="tkx" text-anchor="middle">38</text>
<text x="544.18" y="420" class="tkx" text-anchor="middle">40</text>
<line x1="319.8" y1="399.7" x2="544.8" y2="399.7" stroke="#e8f08a" stroke-width="1.2"/>
<line x1="319.8" y1="398.2" x2="544.8" y2="398.2" stroke="#78dc5a" stroke-width="2"/>
<line x1="319.8" y1="396.6" x2="544.8" y2="396.6" stroke="#9fd3f2" stroke-width="1.1"/>
<path d="M319.7,400.75 L322.58,400.46 L325.46,400.25 L328.33,400.12 L331.21,400.05 L334.09,400.03 L336.97,400.06 L339.85,400.11 L342.72,400.18 L345.6,400.27 L348.48,400.37 L351.36,400.47 L354.24,400.56 L357.11,400.63 L359.99,400.7 L362.87,400.74 L365.75,400.76 L368.63,400.76 L371.5,400.73 L374.38,400.68 L377.26,400.6 L380.14,400.51 L383.02,400.4 L385.89,400.28 L388.77,400.16 L391.65,400.03 L394.53,399.9 L397.41,399.78 L400.28,399.68 L403.16,399.59 L406.04,399.52 L408.92,399.48 L411.8,399.46 L414.67,399.47 L417.55,399.5 L420.43,399.55 L423.31,399.63 L426.19,399.72 L429.06,399.83 L431.94,399.95 L434.82,400.08 L437.7,400.21 L440.58,400.33 L443.45,400.44 L446.33,400.54 L449.21,400.61 L452.09,400.67 L454.97,400.7 L457.84,400.7 L460.72,400.67 L463.6,400.61 L466.48,400.52 L469.36,400.4 L472.23,400.24 L475.11,400.05 L477.99,399.82 L480.87,399.55 L483.75,399.22 L486.62,398.83 L489.5,398.35 L492.38,397.75 L495.26,396.99 L498.14,396.01 L501.01,394.75 L503.89,393.11 L506.77,391.01 L509.65,388.35 L512.53,385.04 L515.4,381.05 L518.28,376.4 L521.16,371.19 L524.04,365.64 L526.92,360.01 L529.79,354.59 L532.67,349.61 L535.55,345.24 L538.43,341.56 L541.31,338.56 L544.18,336.17" stroke="#d6e88e" stroke-width="1.1" fill="none"/>
<path d="M319.7,404.09 L322.58,403.02 L325.46,402.16 L328.33,401.49 L331.21,400.95 L334.09,400.54 L336.97,400.22 L339.85,399.99 L342.72,399.83 L345.6,399.73 L348.48,399.67 L351.36,399.67 L354.24,399.69 L357.11,399.75 L359.99,399.84 L362.87,399.94 L365.75,400.06 L368.63,400.18 L371.5,400.31 L374.38,400.44 L377.26,400.56 L380.14,400.67 L383.02,400.76 L385.89,400.84 L388.77,400.9 L391.65,400.94 L394.53,400.96 L397.41,400.95 L400.28,400.92 L403.16,400.87 L406.04,400.8 L408.92,400.7 L411.8,400.59 L414.67,400.47 L417.55,400.34 L420.43,400.2 L423.31,400.05 L426.19,399.91 L429.06,399.77 L431.94,399.65 L434.82,399.53 L437.7,399.42 L440.58,399.34 L443.45,399.27 L446.33,399.22 L449.21,399.19 L452.09,399.18 L454.97,399.18 L457.84,399.19 L460.72,399.21 L463.6,399.23 L466.48,399.23 L469.36,399.21 L472.23,399.14 L475.11,399.01 L477.99,398.77 L480.87,398.38 L483.75,397.8 L486.62,396.94 L489.5,395.72 L492.38,394.02 L495.26,391.67 L498.14,388.49 L501.01,384.27 L503.89,378.76 L506.77,371.75 L509.65,363.05 L512.53,352.6 L515.4,340.54 L518.28,327.21 L521.16,313.18 L524.04,299.13 L526.92,285.76 L529.79,273.64 L532.67,263.11 L535.55,254.31 L538.43,247.17 L541.31,241.53 L544.18,237.16" stroke="#9ccbee" stroke-width="1.1" fill="none"/>
<path d="M319.7,400.34 L322.58,399.89 L325.46,399.54 L328.33,399.29 L331.21,399.14 L334.09,399.08 L336.97,399.13 L339.85,399.25 L342.72,399.45 L345.6,399.7 L348.48,399.99 L351.36,400.29 L354.24,400.59 L357.11,400.87 L359.99,401.1 L362.87,401.27 L365.75,401.37 L368.63,401.39 L371.5,401.34 L374.38,401.21 L377.26,401.01 L380.14,400.76 L383.02,400.46 L385.89,400.15 L388.77,399.83 L391.65,399.52 L394.53,399.26 L397.41,399.05 L400.28,398.9 L403.16,398.83 L406.04,398.83 L408.92,398.92 L411.8,399.08 L414.67,399.3 L417.55,399.57 L420.43,399.88 L423.31,400.2 L426.19,400.51 L429.06,400.8 L431.94,401.04 L434.82,401.23 L437.7,401.34 L440.58,401.38 L443.45,401.34 L446.33,401.22 L449.21,401.03 L452.09,400.79 L454.97,400.5 L457.84,400.19 L460.72,399.87 L463.6,399.56 L466.48,399.29 L469.36,399.07 L472.23,398.91 L475.11,398.83 L477.99,398.83 L480.87,398.9 L483.75,399.05 L486.62,399.27 L489.5,399.53 L492.38,399.84 L495.26,400.15 L498.14,400.47 L501.01,400.76 L503.89,401.01 L506.77,401.21 L509.65,401.33 L512.53,401.38 L515.4,401.35 L518.28,401.24 L521.16,401.06 L524.04,400.82 L526.92,400.54 L529.79,400.23 L532.67,399.91 L535.55,399.6 L538.43,399.32 L541.31,399.1 L544.18,398.93" stroke="#a8dfa0" stroke-width="1" fill="none"/>
<text x="320.3" y="397.6" class="red" textLength="35.4" lengthAdjust="spacingAndGlyphs">110.288869</text>
<text x="320.8" y="397.6" class="red" opacity="0.6" textLength="35" lengthAdjust="spacingAndGlyphs">120.288869</text>
<text x="325.5" y="241.9" class="anno" textLength="131.7" lengthAdjust="spacingAndGlyphs">ORF1ab:<tspan dx="1.5">6.8</tspan> × 10<tspan dy="-4" font-size="8">3</tspan><tspan dy="4">copies/mL</tspan></text>
<text x="325.5" y="267.8" class="anno" textLength="95.4" lengthAdjust="spacingAndGlyphs">N:<tspan dx="1.5">4</tspan> × 10<tspan dy="-4" font-size="8">3</tspan><tspan dy="4">copies/mL</tspan></text>
<text x="504.6" y="279.4" class="lbl10">Fam</text>
<text x="527.3" y="364.8" class="lbl10">Hex</text>
<text x="473.7" y="411.9" class="neg">Negative control</text>
<text x="0" y="0" class="ttl3" transform="translate(291.1,319) rotate(-90)" text-anchor="middle">ΔRn</text>
<text x="421.5" y="434.5" class="ttl2" text-anchor="middle">Cycles</text>
<text x="283" y="232.2" class="plbl">d</text>
</svg>
</body></html>
